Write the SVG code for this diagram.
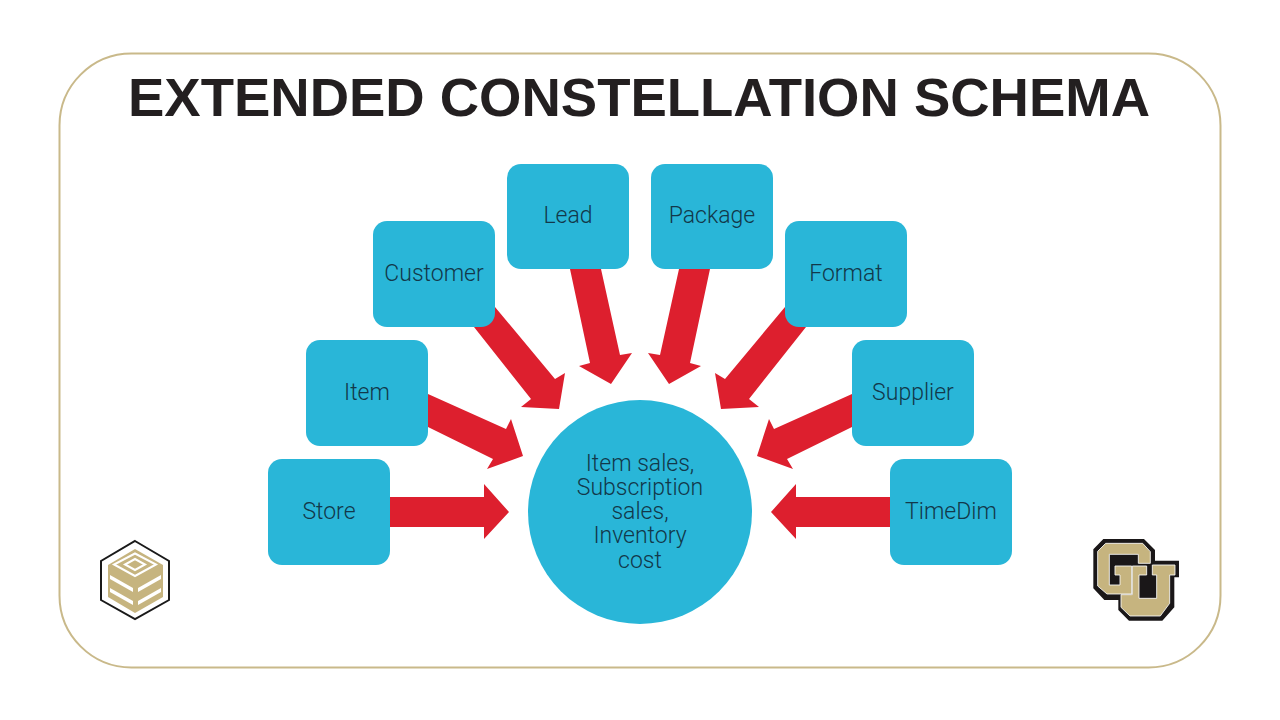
<svg xmlns="http://www.w3.org/2000/svg" width="1280" height="720" viewBox="0 0 1280 720">
<style>
.box{fill:#29b6d8}
.lbl{font-family:"Roboto","Liberation Sans",Arial,sans-serif;font-weight:300;font-size:23px;fill:#12384a;text-anchor:middle}
.arr{fill:#dd1f2e}
.gold{fill:#c6b47f}
</style>
<rect width="1280" height="720" fill="#fff"/>
<rect x="59.500" y="53.500" width="1161" height="614" rx="72" fill="none" stroke="#c9b98a" stroke-width="2"/>
<text x="639" y="116" font-family="Liberation Sans,Arial,sans-serif" font-weight="700" font-size="53" fill="#231f20" text-anchor="middle" textLength="1022" lengthAdjust="spacingAndGlyphs">EXTENDED CONSTELLATION SCHEMA</text>
<g id="connectors">
<polygon class="arr" points="390,497 484,497 484,484 509,512 484,539 484,527 390,527"/>
<polygon class="arr" points="428,394 506,429 511,419 523,456 487,469 493,459 428,427"/>
<polygon class="arr" points="495,307 555,379 565,373 559,409 521,407 531,399 474,327"/>
<polygon class="arr" points="570,269 601,269 620,355 632,353 611,384 579,366 590,363"/>
<polygon class="arr" points="710,269 679,269 660,355 648,353 669,384 701,366 690,363"/>
<polygon class="arr" points="785,307 806,327 749,399 759,407 721,409 715,373 725,379"/>
<polygon class="arr" points="852,394 852,427 787,459 793,469 757,456 769,419 774,429"/>
<polygon class="arr" points="890,497 890,527 796,527 796,539 771,512 796,484 796,497"/>
</g>
<g id="store"><rect class="box" x="268" y="459" width="122" height="106" rx="14"/><text class="lbl" x="329" y="519">Store</text></g>
<g id="item"><rect class="box" x="306" y="340" width="122" height="106" rx="14"/><text class="lbl" x="367" y="400">Item</text></g>
<g id="customer"><rect class="box" x="373" y="221" width="122" height="106" rx="14"/><text class="lbl" x="434" y="281">Customer</text></g>
<g id="lead"><rect class="box" x="507" y="164" width="122" height="105" rx="14"/><text class="lbl" x="568" y="223">Lead</text></g>
<g id="package"><rect class="box" x="651" y="164" width="122" height="105" rx="14"/><text class="lbl" x="712" y="223">Package</text></g>
<g id="format"><rect class="box" x="785" y="221" width="122" height="106" rx="14"/><text class="lbl" x="846" y="281">Format</text></g>
<g id="supplier"><rect class="box" x="852" y="340" width="122" height="106" rx="14"/><text class="lbl" x="913" y="400">Supplier</text></g>
<g id="timedim"><rect class="box" x="890" y="459" width="122" height="106" rx="14"/><text class="lbl" x="951" y="519">TimeDim</text></g>
<g id="facts"><circle class="box" cx="640" cy="512" r="112"/>
<text class="lbl" x="640" y="470.500">Item sales,</text>
<text class="lbl" x="640" y="494.500">Subscription</text>
<text class="lbl" x="640" y="518.500">sales,</text>
<text class="lbl" x="640" y="543">Inventory</text>
<text class="lbl" x="640" y="567.500">cost</text></g>
<g id="logo-cube">
<polygon points="135,541 169,561 169,600 135,619 101,600 101,561" fill="#fff" stroke="#1a1a1a" stroke-width="2"/>
<polygon class="gold" points="135,549 163,565 163,597 135,613 108,597 108,565"/>
<g fill="none" stroke="#fff" stroke-width="2">
<polygon points="135,553.500 156,564.500 135,576 114,564.500"/>
<polygon points="135,559 145,564.500 135,570 125,564.500"/>
</g>
<g fill="#fff">
<polygon points="110,575 133,588 133,592 110,579"/>
<polygon points="110,588 133,601 133,605 110,592"/>
<polygon points="161,575 138,588 138,592 161,579"/>
<polygon points="161,588 138,601 138,605 161,592"/>
</g>
</g>
<g id="logo-cu" transform="translate(1075 520) scale(.3333)">
<path fill="#1a1718" d="M85,57H207L240,90V122H312V172H298V262L262,302H162L130,270V240H88L55,205V88Z"/>
<g fill="#c6b47f" stroke="#fff" stroke-width="2.500">
<path d="M92,70H203L226,95V130H190V103H103V195H135V165H120V138H170V222H96L68,198V94Z"/>
<path d="M172,138H215V165H192V235H245V165H232V135H300V165H284V250L256,288H165L138,262V224H172Z"/>
</g>
</g>
</svg>
